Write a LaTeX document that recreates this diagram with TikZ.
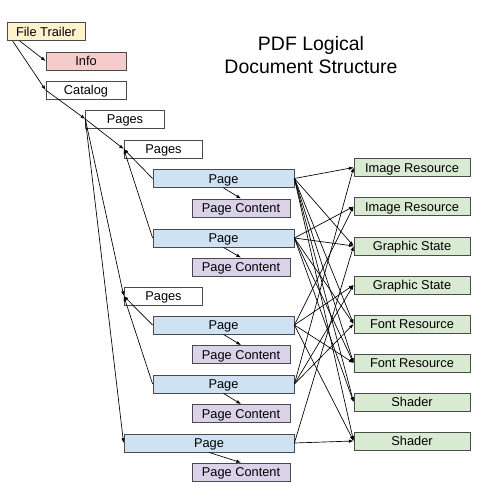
\documentclass[tikz,border=0pt]{standalone}
\usepackage{fontspec}
\setmainfont{Liberation Sans}
\usetikzlibrary{arrows.meta}
\definecolor{boxline}{HTML}{4A4A4A}
\definecolor{trailerfill}{HTML}{FFF2CC}
\definecolor{infofill}{HTML}{F4CCCC}
\definecolor{pagefill}{HTML}{CFE2F3}
\definecolor{contentfill}{HTML}{D9D2E9}
\definecolor{resfill}{HTML}{D9EAD3}
\begin{document}
\begin{tikzpicture}[x=0.75pt,y=-0.75pt,
    box/.style={draw=boxline,line width=0.6pt,inner sep=0pt,minimum height=13.5pt,
      text height=6.9pt,text depth=0pt,font=\fontsize{9.6}{11}\selectfont},
    trailerbox/.style={box,fill=trailerfill,minimum width=58.5pt},
    infobox/.style={box,fill=infofill,minimum width=60pt},
    plainbox/.style={box,fill=white,minimum width=60pt},
    pagesbox/.style={box,fill=white,minimum width=59pt},
    pagebox/.style={box,fill=pagefill,minimum width=105.75pt},
    contentbox/.style={box,fill=contentfill,minimum width=73.5pt},
    resbox/.style={box,fill=resfill,minimum width=87pt},
    link/.style={line width=0.5pt,-{Latex[length=3.5pt,width=2.6pt]}}]
  \useasboundingbox (0,0) rectangle (487,499);
  % title
  \node[align=center,font=\fontsize{14.6}{17.5}\selectfont] (title) at (311,55)
    {PDF Logical\\Document Structure};
  % document tree
  \draw
    (46,31.5) node[trailerbox] (trailer) {File Trailer}
    (86,61) node[infobox] (info) {Info}
    (86,90) node[plainbox] (catalog) {Catalog}
    (125,119) node[pagesbox] (pages0) {Pages}
    (163.5,149) node[pagesbox] (pages1) {Pages}
    (223.5,178.5) node[pagebox] (p1) {Page}
    (241,208) node[contentbox] (c1) {Page Content}
    (223.5,238) node[pagebox] (p2) {Page}
    (241,267) node[contentbox] (c2) {Page Content}
    (163.5,296) node[pagesbox] (pages2) {Pages}
    (223.5,325) node[pagebox] (p3) {Page}
    (241,354.5) node[contentbox] (c3) {Page Content}
    (223.5,384) node[pagebox] (p4) {Page}
    (241,413.5) node[contentbox] (c4) {Page Content}
    (209,443) node[pagebox,minimum width=127.5pt] (p5) {Page}
    (241,472) node[contentbox] (c5) {Page Content};
  % resources
  \draw
    (412,167.5) node[resbox] (img1) {Image Resource}
    (412,206.5) node[resbox] (img2) {Image Resource}
    (412,246) node[resbox] (gs1) {Graphic State}
    (412,285) node[resbox] (gs2) {Graphic State}
    (412,324) node[resbox] (font1) {Font Resource}
    (412,363) node[resbox] (font2) {Font Resource}
    (412,402) node[resbox] (shd1) {Shader}
    (412,441) node[resbox] (shd2) {Shader};
  \begin{scope}[link]
    \draw ([xshift=9.75pt]trailer.south west) to (info.west);
    \draw ([xshift=4.5pt]trailer.south west) to (catalog.west);
    \draw (catalog.west) to (pages0.west);
    \draw (pages0.west) to (pages1.west);
    \draw (pages0.west) to (pages2.west);
    \draw (pages0.west) to (p5.west);
    \draw[{Latex[length=3.5pt,width=2.6pt]}-] (pages1.west) to (p1.west);
    \draw[{Latex[length=3.5pt,width=2.6pt]}-] (pages1.west) to (p2.west);
    \draw[{Latex[length=3.5pt,width=2.6pt]}-] (pages2.west) to (p3.west);
    \draw[{Latex[length=3.5pt,width=2.6pt]}-] (pages2.west) to (p4.west);
    \draw (p1.south) to (c1.north);
    \draw (p2.south) to (c2.north);
    \draw (p3.south) to (c3.north);
    \draw (p4.south) to (c4.north);
    \draw (p5.south) to (c5.north);
    \draw (p1.east) to (img1.west);
    \draw (p1.east) to (gs1.west);
    \draw (p1.east) to (font1.west);
    \draw (p1.east) to (font2.west);
    \draw (p1.east) to (shd1.west);
    \draw (p1.east) to (shd2.west);
    \draw (p2.east) to (img2.west);
    \draw (p2.east) to (gs1.west);
    \draw (p2.east) to (font1.west);
    \draw (p2.east) to (font2.west);
    \draw (p2.east) to (shd1.west);
    \draw (p3.east) to (gs2.west);
    \draw (p3.east) to (img2.west);
    \draw (p3.east) to (font2.west);
    \draw (p3.east) to (shd2.west);
    \draw (p4.east) to (font1.west);
    \draw (p4.east) to (gs2.west);
    \draw (p4.east) to (img1.west);
    \draw (p5.east) to (shd2.west);
    \draw (p5.east) to (gs1.west);
  \end{scope}
\end{tikzpicture}
\end{document}
